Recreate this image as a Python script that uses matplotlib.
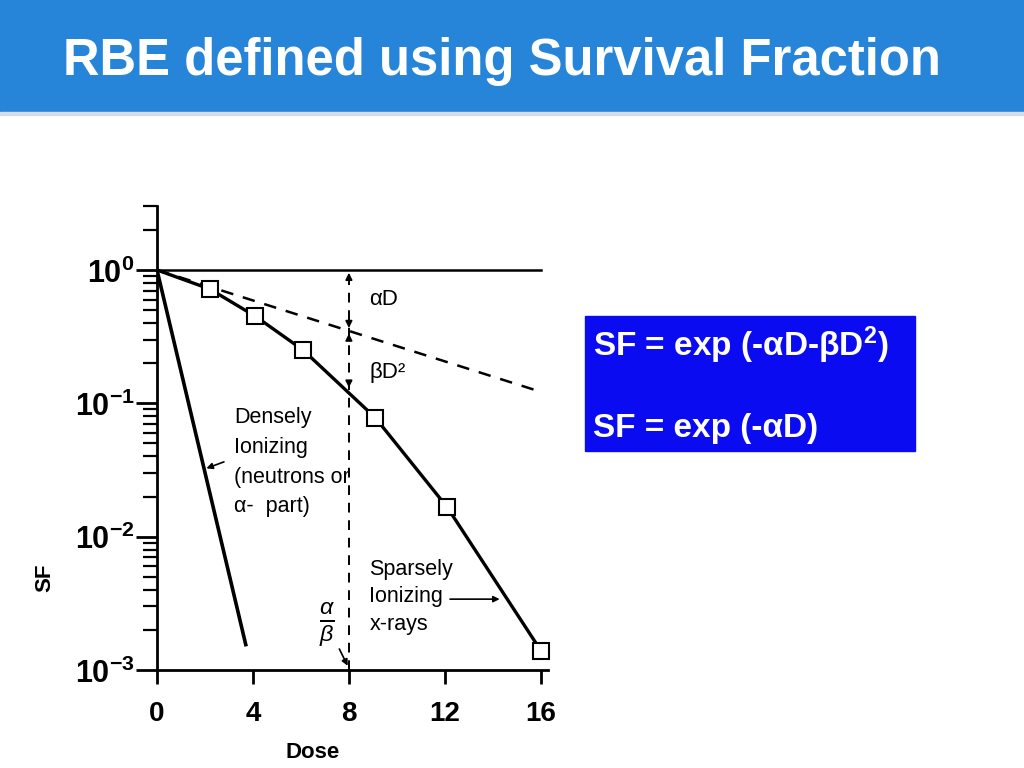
import matplotlib
matplotlib.use('Agg')
import matplotlib.pyplot as plt
from matplotlib.patches import Rectangle
from matplotlib.ticker import LogLocator, NullFormatter

# fonts: Arial-like everywhere, mathtext too
plt.rcParams['mathtext.fontset'] = 'custom'
plt.rcParams['mathtext.rm'] = 'Liberation Sans'
plt.rcParams['mathtext.it'] = 'Liberation Sans:italic'
plt.rcParams['mathtext.bf'] = 'Liberation Sans:bold'
FONT = ['Liberation Sans', 'DejaVu Sans']

# data
title = 'RBE defined using Survival Fraction'
dose_pts = [2.2, 4.1, 6.1, 9.1, 12.1, 16.0]
sf_pts = [0.72, 0.45, 0.25, 0.078, 0.0166, 0.0014]
curve_dose = [0.0] + dose_pts
curve_sf = [1.0] + sf_pts
dense_dose = [0.0, 3.7]
dense_sf = [1.0, 0.00155]
alpha_dose = [0.0, 16.0]
alpha_sf = [1.0, 0.122]
ab_dose = 8.0
sf8_alpha = 0.35
sf8_lq = 0.125
xticks = [0, 4, 8, 12, 16]
yticks = [1e-3, 1e-2, 1e-1, 1e0]
ylabels = [r'$\mathbf{10^{-3}}$', r'$\mathbf{10^{-2}}$', r'$\mathbf{10^{-1}}$', r'$\mathbf{10^{0}}$']
formulas = [r'SF = exp (-αD-βD$^{\mathbf{2}}$)', 'SF = exp (-αD)']

W, H = 1024, 768
fig = plt.figure(figsize=(W / 100, H / 100), dpi=100)

# slide header
fig.patches.append(Rectangle((0, 1 - 112 / H), 1, 112 / H, transform=fig.transFigure,
                             color='#2685d9', zorder=0))
fig.patches.append(Rectangle((0, 1 - 115 / H), 1, 3 / H, transform=fig.transFigure,
                             color='#d5dde6', zorder=0))
fig.text(63 / W, 1 - 62 / H, title, color='white', fontsize=36.5, fontweight='bold',
         family=FONT, va='center', ha='left')

# formula box
fig.patches.append(Rectangle((585 / W, 1 - 451 / H), 330 / W, 135 / H,
                             transform=fig.transFigure, color='#0b0bf2', zorder=0))
fig.text(593 / W, 1 - 345 / H, formulas[0], color='white', fontsize=24,
         fontweight='bold', family=FONT, va='center', ha='left')
fig.text(593 / W, 1 - 428 / H, formulas[1], color='white', fontsize=24,
         fontweight='bold', family=FONT, va='center', ha='left')

# survival plot
ax = fig.add_axes([157 / W, 1 - 670 / H, 391 / W, 464 / H])
ax.set_yscale('log')
ax.set_xlim(0, 16.3)
ax.set_ylim(1e-3, 3.02)
for s in ['top', 'right']:
    ax.spines[s].set_visible(False)
ax.spines['left'].set_linewidth(2)
ax.spines['bottom'].set_linewidth(2)

ax.set_xticks(xticks)
ax.set_xticklabels([str(t) for t in xticks], family=FONT, fontsize=20, fontweight='bold')
ax.set_yticks(yticks)
ax.set_yticklabels(ylabels, fontsize=22)
ax.yaxis.set_minor_locator(LogLocator(base=10, subs=range(2, 10)))
ax.yaxis.set_minor_formatter(NullFormatter())
ax.tick_params(axis='x', length=10, width=2, pad=12)
ax.tick_params(axis='y', which='major', length=15, width=2, pad=1)
ax.tick_params(axis='y', which='minor', length=10, width=1.6)

ax.plot([0, 16], [1, 1], color='black', lw=1.8, clip_on=False)
ax.plot(alpha_dose, alpha_sf, color='black', lw=1.8, ls=(0, (5, 4)))
ax.plot(dense_dose, dense_sf, color='black', lw=2.6)
ax.plot(curve_dose, curve_sf, color='black', lw=2.4)
ax.plot(dose_pts, sf_pts, ls='none', marker='s', ms=11, mfc='white', mec='black',
        mew=1.5, clip_on=False, zorder=5)
ax.plot([ab_dose, ab_dose], [1e-3, 1], color='black', lw=1.4, ls=(0, (5, 4)))

# arrow heads on the alpha/beta marker line
arr = dict(arrowstyle='-|>', color='black', lw=1.2, mutation_scale=10)
for tip, tail in [(1.0, 0.82), (sf8_alpha, 0.43), (sf8_alpha, 0.285), (sf8_lq, 0.155)]:
    ax.annotate('', xy=(ab_dose, tip), xytext=(ab_dose, tail), arrowprops=arr)

ax.text(8.85, 0.6, 'αD', family=FONT, fontsize=16, va='center')
ax.text(8.85, 0.17, 'βD²', family=FONT, fontsize=16, va='center')
ax.text(3.2, 0.094, 'Densely\nIonizing\n(neutrons or\nα-  part)', family=FONT,
        fontsize=15.5, va='top', linespacing=1.55)
ax.annotate('', xy=(1.95, 0.032), xytext=(2.9, 0.037),
            arrowprops=dict(arrowstyle='-|>', color='black', lw=1.2, mutation_scale=9))
ax.text(8.85, 0.0068, 'Sparsely\nIonizing\nx-rays', family=FONT, fontsize=15.5,
        va='top', linespacing=1.4)
ax.annotate('', xy=(14.4, 0.0034), xytext=(12.1, 0.0034),
            arrowprops=dict(arrowstyle='-|>', color='black', lw=1.2, mutation_scale=9))
ax.text(7.1, 0.0022, r'$\frac{\alpha}{\beta}$', fontsize=24, ha='center', va='center')
ax.annotate('', xy=(8.0, 0.00103), xytext=(7.55, 0.0015),
            arrowprops=dict(arrowstyle='-|>', color='black', lw=1.2, mutation_scale=9))

fig.text(313 / W, 1 - 752 / H, 'Dose', family=FONT, fontsize=16, fontweight='bold',
         ha='center', va='center')
fig.text(45 / W, 1 - 578 / H, 'SF', family=FONT, fontsize=16, fontweight='bold',
         ha='center', va='center', rotation=90)

fig.savefig('out.png', dpi=100)
